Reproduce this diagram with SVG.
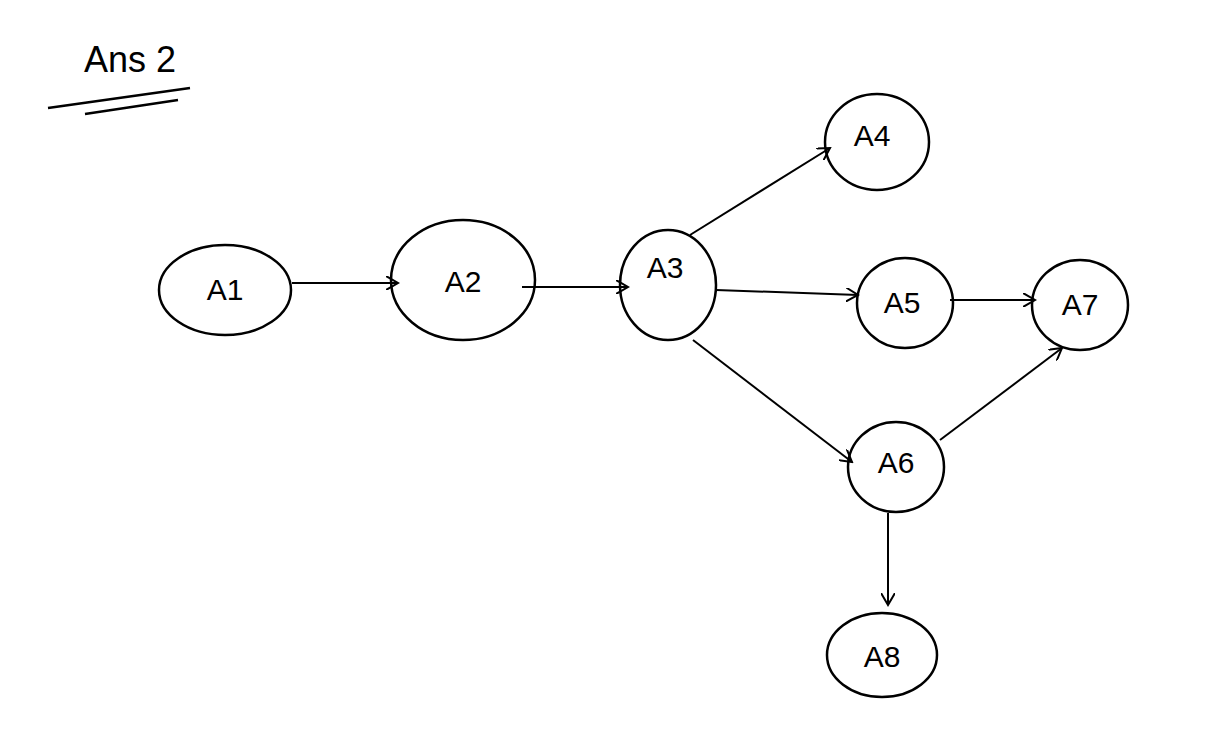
<svg xmlns="http://www.w3.org/2000/svg" width="1232" height="751" viewBox="0 0 1232 751">
<style>
.n{fill:none;stroke:#000;stroke-width:2.5}
.t{font-family:"Liberation Sans",sans-serif;font-size:30px;fill:#000;text-anchor:middle}
.e{stroke:#000;stroke-width:2;fill:none;marker-end:url(#a)}
</style>
<defs><marker id="a" markerWidth="14" markerHeight="14" refX="12" refY="7" orient="auto" markerUnits="userSpaceOnUse"><path d="M0,0 L12,7 L0,14" fill="none" stroke="#000" stroke-width="2"/></marker></defs>
<rect width="1232" height="751" fill="#fff"/>
<g id="title"><text x="130" y="72" class="t" style="font-size:36px">Ans 2</text>
<path d="M48,108 L190,88 M85,114 L178,100" stroke="#000" stroke-width="2.5"/></g>
<g id="edges">
<line class="e" x1="292" y1="283" x2="398" y2="283"/>
<line class="e" x1="522" y1="287" x2="628" y2="287"/>
<line class="e" x1="690" y1="235" x2="830" y2="148"/>
<line class="e" x1="716" y1="290" x2="858" y2="295"/>
<line class="e" x1="950" y1="300" x2="1035" y2="300"/>
<line class="e" x1="693" y1="340" x2="852" y2="462"/>
<line class="e" x1="940" y1="440" x2="1062" y2="348"/>
<line class="e" x1="888" y1="513" x2="888" y2="605"/>
</g>
<g id="A1"><ellipse class="n" cx="225" cy="290" rx="66" ry="45"/><text class="t" x="225" y="300">A1</text></g>
<g id="A2"><ellipse class="n" cx="463" cy="280" rx="72" ry="60"/><text class="t" x="463" y="292">A2</text></g>
<g id="A3"><ellipse class="n" cx="668" cy="285" rx="48" ry="55"/><text class="t" x="665" y="278">A3</text></g>
<g id="A4"><ellipse class="n" cx="877" cy="142" rx="52" ry="48"/><text class="t" x="872" y="146">A4</text></g>
<g id="A5"><ellipse class="n" cx="905" cy="303" rx="48" ry="45"/><text class="t" x="902" y="313">A5</text></g>
<g id="A7"><ellipse class="n" cx="1080" cy="305" rx="48" ry="45"/><text class="t" x="1080" y="315">A7</text></g>
<g id="A6"><ellipse class="n" cx="896" cy="467" rx="48" ry="45"/><text class="t" x="896" y="473">A6</text></g>
<g id="A8"><ellipse class="n" cx="882" cy="655" rx="55" ry="42"/><text class="t" x="882" y="667">A8</text></g>
</svg>
